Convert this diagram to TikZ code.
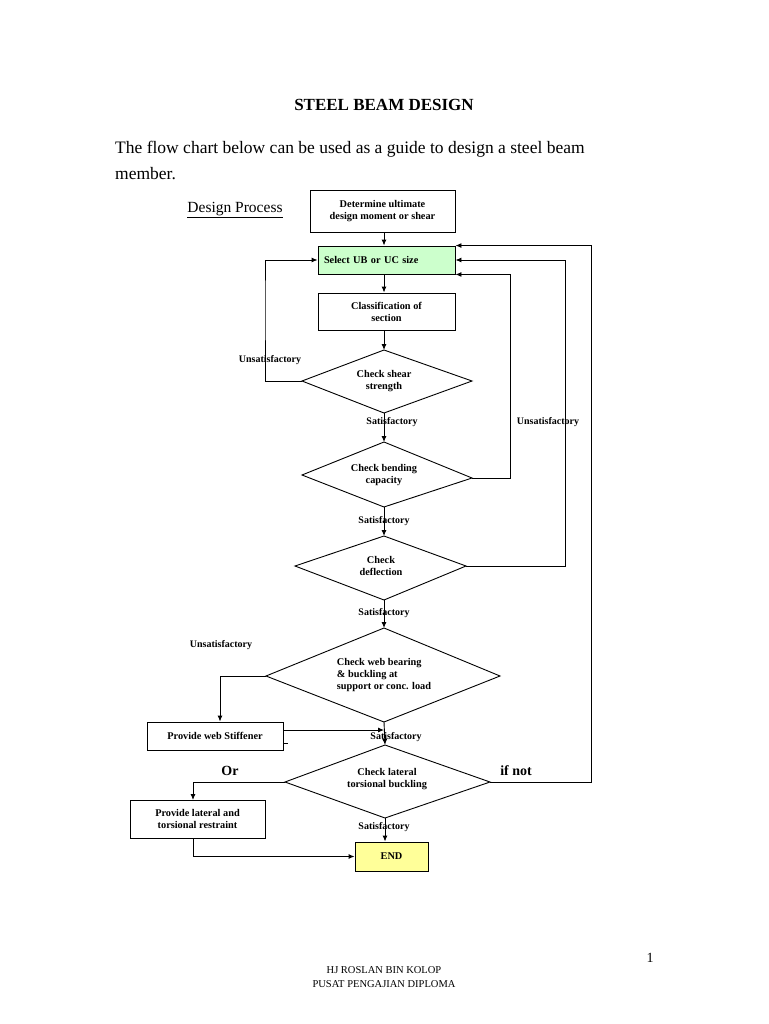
\documentclass[tikz,border=0pt]{standalone}
\usepackage{fontspec}
\setmainfont{Liberation Serif}
\usetikzlibrary{shapes.geometric,arrows.meta}
\begin{document}
\begin{tikzpicture}[x=1pt,y=-1pt,
  ln/.style={draw=black,line width=0.9pt},
  arr/.style={ln,-{Latex[length=6pt,width=5pt]}},
  fc/.style={font=\fontsize{10.3}{12}\selectfont\bfseries,align=center},
  lbl/.style={font=\fontsize{10}{11}\selectfont\bfseries,inner sep=0pt},
  box/.style={ln,fc,inner sep=0pt},
  dia/.style={ln,fc,diamond,inner sep=0pt}]
\useasboundingbox (0,0) rectangle (768,1024);
\node[font=\fontsize{17}{20}\selectfont\bfseries] (title) at (384,105) {STEEL BEAM DESIGN};
\node[font=\fontsize{17.5}{26}\selectfont,anchor=north west,align=left,inner sep=0pt] (intro) at (115,141) {The flow chart below can be used as a guide to design a steel beam\\member.};
\node[font=\fontsize{15.5}{17}\selectfont,inner sep=1pt] (dp) at (235,210) {\underline{Design Process}};
\node[box,minimum width=145,minimum height=42] (b1) at (382.5,211) {Determine ultimate\\design moment or shear};
\node[box,fill={rgb,255:red,204;green,255;blue,204},minimum width=137,minimum height=28,text width=125,align=left] (b2) at (386.5,260) {Select UB or UC size};
\node[box,minimum width=137,minimum height=37] (b3) at (386.5,311.5) {Classification of\\section};
\draw[ln] (302,381) coordinate (d1w) -- (384,350) coordinate (d1n) -- (472,381) coordinate (d1e) -- (384,413) coordinate (d1s) -- cycle;
\node[fc] (d1) at (384,381) {Check shear\\strength};
\draw[ln] (302,475) coordinate (d2w) -- (384,442) coordinate (d2n) -- (472,478) coordinate (d2e) -- (384,507) coordinate (d2s) -- cycle;
\node[fc] (d2) at (384,475) {Check bending\\capacity};
\draw[ln] (295,566) coordinate (d3w) -- (384,536) coordinate (d3n) -- (466,566) coordinate (d3e) -- (384,600) coordinate (d3s) -- cycle;
\node[fc] (d3) at (381,566) {Check\\deflection};
\draw[ln] (266,676) coordinate (d4w) -- (384,628) coordinate (d4n) -- (500,676) coordinate (d4e) -- (384,722) coordinate (d4s) -- cycle;
\node[fc,align=left] (d4) at (384,675) {Check web bearing\\\& buckling at\\support or conc. load};
\draw[ln] (285,782) coordinate (d5w) -- (385,745) coordinate (d5n) -- (490,782) coordinate (d5e) -- (385,818) coordinate (d5s) -- cycle;
\node[fc] (d5) at (387,779) {Check lateral\\torsional buckling};
\node[box,minimum width=136,minimum height=28] (ws) at (215,736) {Provide web Stiffener};
\node[box,minimum width=135,minimum height=38] (lr) at (197.5,819) {Provide lateral and\\torsional restraint};
\node[box,fill={rgb,255:red,255;green,255;blue,153},minimum width=73,minimum height=29] (end) at (391.5,856.5) {END};
% main flow
\draw[arr] (b1.south -| d1n) -- (b2.north -| d1n);
\draw[arr] (b2.south -| d1n) -- (b3.north -| d1n);
\draw[arr] (b3.south -| d1n) -- (d1n);
\draw[arr] (d1s) -- (d2n);
\draw[arr] (d2s) -- (d3n);
\draw[arr] (d3s) -- (d4n);
\draw[arr] (d4s) -- (d5n);
\draw[arr] (d5s) -- (end.north -| d5s);
% loops
\coordinate (t1) at (b2.north east); \coordinate (t3) at (b2.south east);
\draw[arr] (d1w) -| (265,300) |- (b2.west);
\draw[arr] (d2e) -- (510,478) |- (t3);
\draw[arr] (d3e) -- (565,566) |- (b2.east);
\draw[arr] (d5e) -- (591,782) |- (t1);
\draw[arr] (d4w) -| (ws.north -| 220,0);
\draw[arr] (ws.east |- 0,730) -- (384,730);
\draw[ln] (283,743) -- (288,743);
\draw[arr] (d5w) -| (193,800);
\draw[arr] (193,838) |- (end.west);
% labels
\node[lbl] (u1) at (270,360) {Unsatisfactory};
\node[lbl] (s1) at (392,422) {Satisfactory};
\node[lbl] (u2) at (548,422) {Unsatisfactory};
\node[lbl] (s2) at (384,521) {Satisfactory};
\node[lbl] (s3) at (384,613) {Satisfactory};
\node[lbl] (u4) at (221,645) {Unsatisfactory};
\node[lbl] (s4) at (396,737) {Satisfactory};
\node[lbl] (s5) at (384,827) {Satisfactory};
\node[font=\fontsize{14}{16}\selectfont\bfseries] (or) at (230,771) {Or};
\node[font=\fontsize{14}{16}\selectfont\bfseries] (ifnot) at (516,771) {if not};
\node[font=\fontsize{10.5}{14}\selectfont,align=center] (foot) at (384,977) {HJ ROSLAN BIN KOLOP\\PUSAT PENGAJIAN DIPLOMA};
\node[font=\fontsize{14}{16}\selectfont] (pg) at (650,958) {1};
\end{tikzpicture}
\end{document}
